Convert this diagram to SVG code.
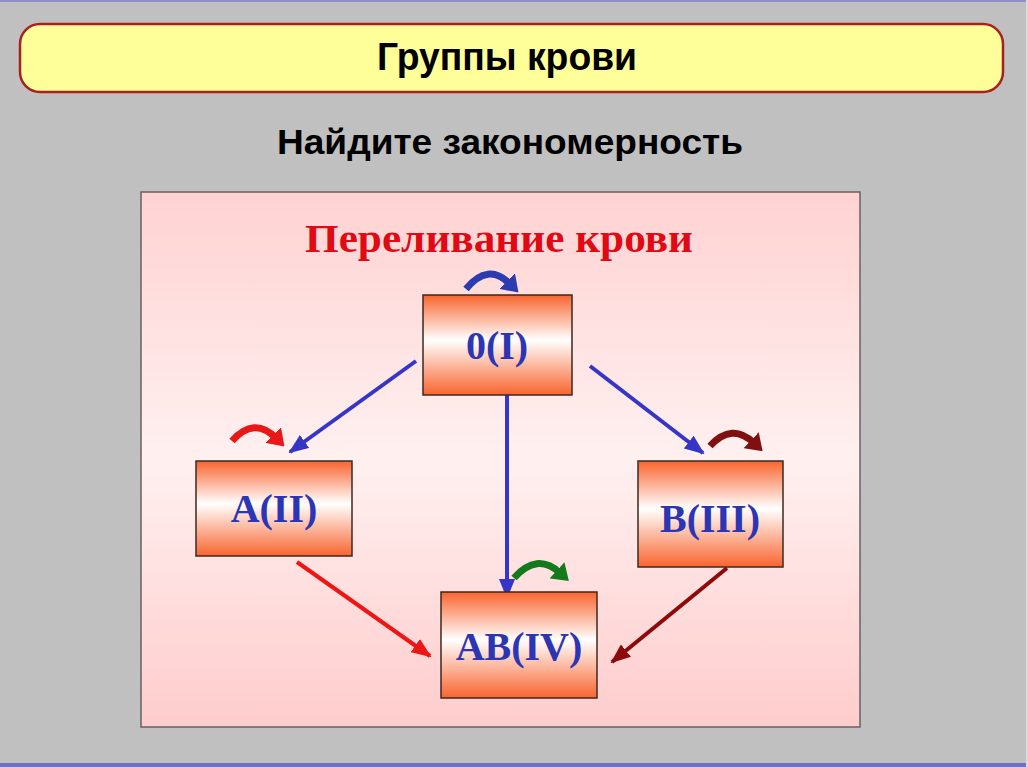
<svg xmlns="http://www.w3.org/2000/svg" width="1028" height="767" viewBox="0 0 1028 767">
<defs>
<linearGradient id="boxGrad" x1="0" y1="0" x2="0" y2="1">
<stop offset="0" stop-color="#f9642e"/>
<stop offset="0.45" stop-color="#ffffff"/>
<stop offset="1" stop-color="#f9642e"/>
</linearGradient>
<linearGradient id="panelGrad" x1="0" y1="0" x2="0" y2="1">
<stop offset="0" stop-color="#ffd2d2"/>
<stop offset="0.5" stop-color="#fff0f0"/>
<stop offset="1" stop-color="#ffcccc"/>
</linearGradient>
<marker id="mBlue" markerUnits="userSpaceOnUse" markerWidth="20" markerHeight="16" refX="18" refY="8" orient="auto"><path d="M0,0 L20,8 L0,16 Z" fill="#3535c8"/></marker>
<marker id="mRed" markerUnits="userSpaceOnUse" markerWidth="20" markerHeight="16" refX="18" refY="8" orient="auto"><path d="M0,0 L20,8 L0,16 Z" fill="#ee1515"/></marker>
<marker id="mDark" markerUnits="userSpaceOnUse" markerWidth="20" markerHeight="16" refX="18" refY="8" orient="auto"><path d="M0,0 L20,8 L0,16 Z" fill="#8c0a0a"/></marker>
<marker id="cBlue" markerUnits="userSpaceOnUse" markerWidth="16" markerHeight="22" refX="4" refY="11" orient="auto"><path d="M0,0 L16,11 L0,22 Z" fill="#2a3cb0"/></marker>
<marker id="cRed" markerUnits="userSpaceOnUse" markerWidth="16" markerHeight="22" refX="4" refY="11" orient="auto"><path d="M0,0 L16,11 L0,22 Z" fill="#e81818"/></marker>
<marker id="cDark" markerUnits="userSpaceOnUse" markerWidth="16" markerHeight="22" refX="4" refY="11" orient="auto"><path d="M0,0 L16,11 L0,22 Z" fill="#801010"/></marker>
<marker id="cGreen" markerUnits="userSpaceOnUse" markerWidth="16" markerHeight="22" refX="4" refY="11" orient="auto"><path d="M0,0 L16,11 L0,22 Z" fill="#157a1e"/></marker>
</defs>
<style>
.box{fill:url(#boxGrad);stroke:#3a2a20;stroke-width:1.5}
.lbl{font-family:"Liberation Serif",serif;font-weight:bold;font-size:40px;fill:#2c36b4;text-anchor:middle}
.ln{stroke-width:4;fill:none}
.cv{stroke-width:7;fill:none;stroke-linecap:butt}
</style>
<rect x="0" y="0" width="1028" height="767" fill="#c0c0c0"/>
<rect x="0" y="0" width="1028" height="2" fill="#9090c8"/>
<rect x="0" y="763" width="1028" height="4" fill="#7070c0"/>
<rect x="1026" y="0" width="2" height="767" fill="#dcdcdc"/>
<g id="header">
<rect x="20" y="24" width="983" height="68" rx="20" ry="20" fill="#ffff99" stroke="#a82020" stroke-width="2.5"/>
<text x="507" y="70" font-family="'Liberation Sans',Arial,sans-serif" font-weight="bold" font-size="38" text-anchor="middle" fill="#000" textLength="260" lengthAdjust="spacingAndGlyphs">Группы крови</text>
</g>
<text id="subtitle" x="510" y="154" font-family="'Liberation Sans',Arial,sans-serif" font-weight="bold" font-size="35" text-anchor="middle" fill="#000" textLength="466" lengthAdjust="spacingAndGlyphs">Найдите закономерность</text>
<g id="panel">
<rect x="141" y="192" width="719" height="535" fill="url(#panelGrad)" stroke="#6a6060" stroke-width="1.5"/>
<text x="499" y="252" font-family="'Liberation Serif',serif" font-weight="bold" font-size="41" text-anchor="middle" fill="#e00a14" textLength="388" lengthAdjust="spacingAndGlyphs">Переливание крови</text>
</g>
<g id="connectors">
<line class="ln" x1="416" y1="361" x2="290" y2="452" stroke="#3535c8" marker-end="url(#mBlue)"/>
<line class="ln" x1="590" y1="366" x2="703" y2="453" stroke="#3535c8" marker-end="url(#mBlue)"/>
<line class="ln" x1="507" y1="388" x2="507" y2="597" stroke="#3535c8" marker-end="url(#mBlue)"/>
<line class="ln" x1="297" y1="562" x2="430" y2="656" stroke="#ee1515" marker-end="url(#mRed)"/>
<line class="ln" x1="727" y1="568" x2="612" y2="662" stroke="#8c0a0a" marker-end="url(#mDark)"/>
<path class="cv" d="M466,289 Q488,262 510,284" stroke="#2a3cb0" marker-end="url(#cBlue)"/>
<path class="cv" d="M232,441 Q254,416 276,438" stroke="#e81818" marker-end="url(#cRed)"/>
<path class="cv" d="M710,446 Q732,422 754,443" stroke="#801010" marker-end="url(#cDark)"/>
<path class="cv" d="M514,578 Q537,552 560,573" stroke="#157a1e" marker-end="url(#cGreen)"/>
</g>
<g id="node-0I">
<rect class="box" x="423" y="295" width="149" height="100"/>
<text class="lbl" x="497" y="359">0(I)</text>
</g>
<g id="node-AII">
<rect class="box" x="196" y="461" width="156" height="95"/>
<text class="lbl" x="274" y="522">A(II)</text>
</g>
<g id="node-BIII">
<rect class="box" x="638" y="461" width="145" height="106"/>
<text class="lbl" x="710" y="532">B(III)</text>
</g>
<g id="node-ABIV">
<rect class="box" x="441" y="592" width="156" height="106"/>
<text class="lbl" x="519" y="660">AB(IV)</text>
</g>
</svg>
